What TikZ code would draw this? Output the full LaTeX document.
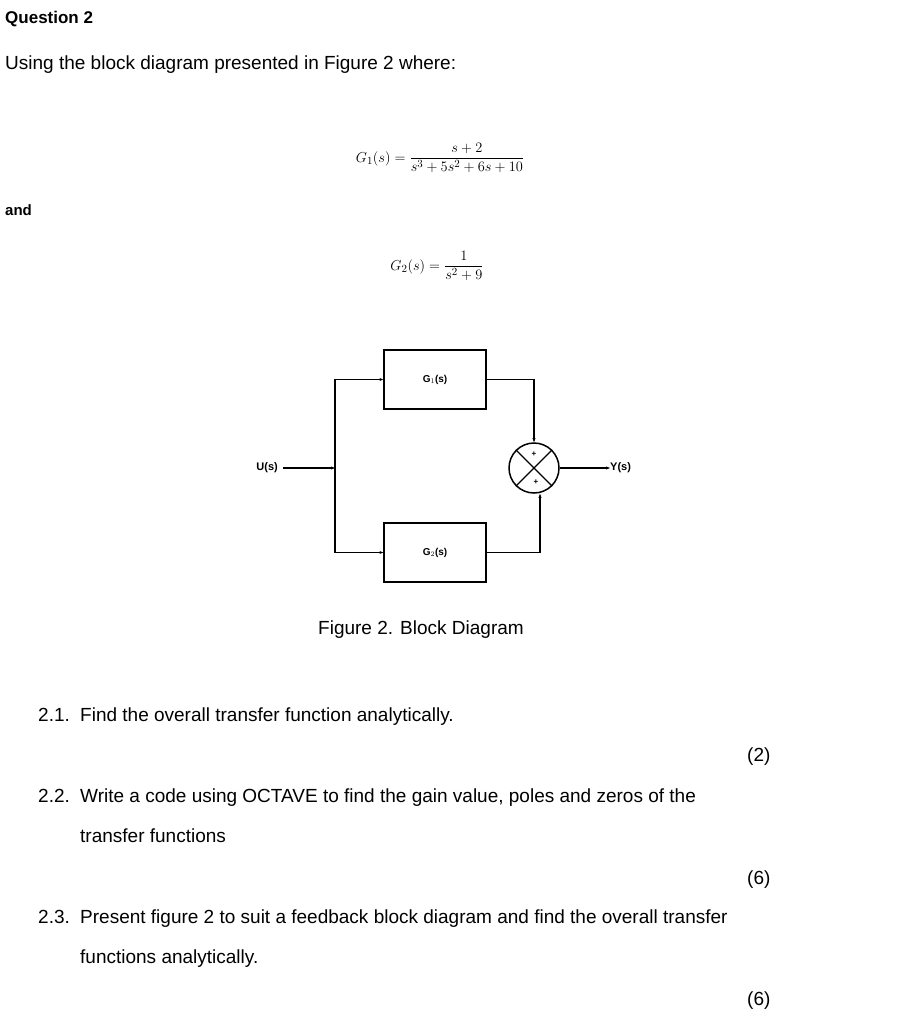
\documentclass[tikz,border=0pt]{standalone}
\usepackage{fontspec}
\setmainfont{Liberation Sans}
\usetikzlibrary{arrows.meta}
\begin{document}
\begin{tikzpicture}[x=1pt,y=-1pt,
  txt/.style={anchor=base west,inner sep=0pt,font=\fontsize{19}{22}\selectfont},
  blk/.style={draw,line width=1.2pt,minimum width=102pt,minimum height=59pt,font=\fontsize{10}{12}\selectfont\bfseries},
  wire/.style={line width=1.2pt},
  arr/.style={wire,-{Stealth[length=4pt,width=3pt]}},
  lab/.style={inner sep=0pt,font=\fontsize{11}{13}\selectfont\bfseries}]
\useasboundingbox (0,0) rectangle (908,1024);
\node[txt,font=\fontsize{17}{20}\selectfont\bfseries] (q) at (5,24) {Question 2};
\node[txt] (t1) at (5,70) {Using the block diagram presented in Figure 2 where:};
\node[inner sep=0pt,font=\fontsize{15}{18}\selectfont] (e1) at (440,158) {$G_1(s)=\displaystyle\frac{s+2}{s^3+5s^2+6s+10}$};
\node[txt,font=\fontsize{15}{18}\selectfont\bfseries] (and) at (5,216) {and};
\node[inner sep=0pt,font=\fontsize{15}{18}\selectfont] (e2) at (437,266) {$G_2(s)=\displaystyle\frac{1}{s^2+9}$};
% diagram
\node[blk] (g1) at (435,379.5) {G$_1$(s)};
\node[blk] (g2) at (435,552.5) {G$_2$(s)};
\node[draw,circle,line width=1.5pt,minimum size=50pt,inner sep=0pt] (sum) at (534,468) {};
\draw[line width=1.2pt] (sum.45)--(sum.225) (sum.135)--(sum.315);
\node[lab,font=\fontsize{8}{9}\selectfont\bfseries] (p1) at (534,454) {+};
\node[lab,font=\fontsize{8}{9}\selectfont\bfseries] (p2) at (536,482) {+};
\node[lab,anchor=east] (u) at (278,468) {U(s)};
\node[lab,anchor=west] (y) at (610,468) {Y(s)};
\coordinate (b) at (335,468);
\draw[arr] (u.east)+(5,0) -- (b);
\draw[arr] (b) |- (g1.west);
\draw[arr] (b) |- (g2.west);
\draw[arr] (g1.east) -| (sum.north);
\draw[arr] (g2.east) -| ([xshift=6pt]sum.south);
\draw[arr] (sum.east) -- (y.west);
\node[txt] (cap) at (318,634) {Figure 2. Block Diagram};
% questions
\node[txt] (n1) at (38,721) {2.1.};
\node[txt] (a1) at (80,721) {Find the overall transfer function analytically.};
\node[txt] (m1) at (747,761) {(2)};
\node[txt] (n2) at (38,802) {2.2.};
\node[txt] (a2) at (80,802) {Write a code using OCTAVE to find the gain value, poles and zeros of the};
\node[txt] (a2b) at (80,842) {transfer functions};
\node[txt] (m2) at (747,884) {(6)};
\node[txt] (n3) at (38,923) {2.3.};
\node[txt] (a3) at (80,923) {Present figure 2 to suit a feedback block diagram and find the overall transfer};
\node[txt] (a3b) at (80,963) {functions analytically.};
\node[txt] (m3) at (747,1005) {(6)};
\end{tikzpicture}
\end{document}
